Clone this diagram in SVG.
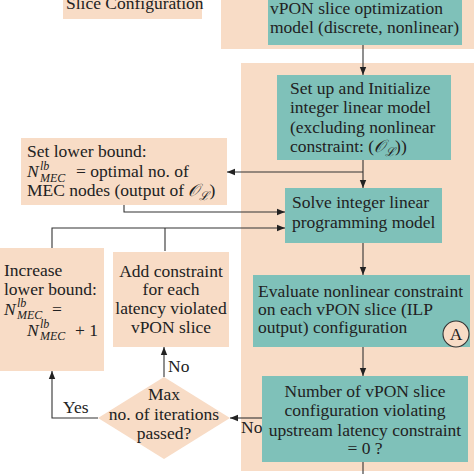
<svg xmlns="http://www.w3.org/2000/svg" width="474" height="474" viewBox="0 0 474 474">
<defs>
<style>
.pe{fill:#f8dcc6}
.te{fill:#7fc1b9}
text{font-family:"Liberation Serif","DejaVu Serif",serif;font-size:17.5px;fill:#222}
.c{text-anchor:middle}
.i{font-style:italic}
.s{font-size:12px;font-style:italic}
.ln{fill:none;stroke:#333;stroke-width:1.1}
.ar{marker-end:url(#ah)}
</style>
<marker id="ah" markerUnits="userSpaceOnUse" markerWidth="8" markerHeight="8" viewBox="0 0 8 8" refX="8" refY="4" orient="auto">
<path d="M0,0.8 L8,4 L0,7.2 Z" fill="#222"/>
</marker>
</defs>
<rect width="474" height="474" fill="#fff"/>

<g id="bg-top">
<rect class="pe" x="221" y="-5" width="260" height="54"/>
</g>
<g id="bg-main">
<rect class="pe" x="241" y="63" width="240" height="408"/>
</g>

<g id="slice-config">
<rect class="pe" x="63" y="-5" width="139" height="24"/>
<text x="66" y="9">Slice Configuration</text>
</g>

<g id="vpon-model">
<rect class="te" x="268" y="-5" width="194" height="50"/>
<text x="270" y="14">vPON slice optimization</text>
<text x="270" y="33">model (discrete, nonlinear)</text>
</g>

<g id="setup">
<rect class="te" x="277" y="75" width="174" height="85"/>
<text x="290" y="94">Set up and Initialize</text>
<text x="290" y="113">integer linear model</text>
<text x="290" y="133">(excluding nonlinear</text>
<text x="290" y="152">constraint: (<tspan class="i">𝒪</tspan><tspan class="s" dy="4">ℒ</tspan><tspan dy="-4">))</tspan></text>
</g>

<g id="lower-bound">
<rect class="pe" x="21" y="138" width="206" height="67"/>
<text x="27" y="157">Set lower bound:</text>
<text x="27" y="177"><tspan class="i">N</tspan><tspan class="s" x="40" dy="-7">lb</tspan><tspan class="s" x="40" dy="12">MEC</tspan><tspan x="76" dy="-5">= optimal no. of</tspan></text>
<text x="27" y="196">MEC nodes (output of <tspan class="i">𝒪</tspan><tspan class="s" dy="4">ℒ</tspan><tspan dy="-4">)</tspan></text>
</g>

<g id="solve">
<rect class="te" x="285" y="188" width="157" height="55"/>
<text x="292" y="208">Solve integer linear</text>
<text x="292" y="228">programming model</text>
</g>

<g id="increase">
<rect class="pe" x="-5" y="248" width="109" height="123"/>
<text x="4" y="276">Increase</text>
<text x="4" y="295">lower bound:</text>
<text x="4" y="315"><tspan class="i">N</tspan><tspan class="s" x="17" dy="-8">lb</tspan><tspan class="s" x="17" dy="12">MEC</tspan><tspan x="52" dy="-4">=</tspan></text>
<text x="27" y="336"><tspan class="i">N</tspan><tspan class="s" x="40" dy="-8">lb</tspan><tspan class="s" x="40" dy="12">MEC</tspan><tspan x="75" dy="-4">+ 1</tspan></text>
</g>

<g id="add-constraint">
<rect class="pe" x="113" y="252" width="116" height="95"/>
<text class="c" x="171" y="277">Add constraint</text>
<text class="c" x="171" y="295">for each</text>
<text class="c" x="171" y="314">latency violated</text>
<text class="c" x="171" y="333">vPON slice</text>
</g>

<g id="evaluate">
<rect class="te" x="253" y="275" width="217" height="72"/>
<text x="258" y="297">Evaluate nonlinear constraint</text>
<text x="258" y="315">on each vPON slice (ILP</text>
<text x="258" y="333">output) configuration</text>
<circle cx="456" cy="334" r="13" fill="#f8dcc6" stroke="#333" stroke-width="1.1"/>
<text class="c" x="456" y="340">A</text>
</g>

<g id="number-check">
<rect class="te" x="262" y="376" width="206" height="86"/>
<text class="c" x="365" y="397">Number of vPON slice</text>
<text class="c" x="365" y="416">configuration violating</text>
<text class="c" x="365" y="436">upstream latency constraint</text>
<text class="c" x="365" y="454">= 0 ?</text>
</g>

<g id="max-iter">
<polygon class="pe" points="164,377 230,418 164,459 98,418"/>
<text class="c" x="164" y="400">Max</text>
<text class="c" x="164" y="420">no. of iterations</text>
<text class="c" x="164" y="439">passed?</text>
</g>

<g id="connectors">
<path class="ln ar" d="M363,45 V75"/>
<path class="ln ar" d="M363,160 V188"/>
<path class="ln ar" d="M363,172 H227"/>
<path class="ln ar" d="M124,205 V212 H285"/>
<path class="ln" d="M52,248 V228 H165 M165,251 V228"/>
<path class="ln ar" d="M165,228 H285"/>
<path class="ln ar" d="M363,243 V275"/>
<path class="ln ar" d="M363,347 V376"/>
<path class="ln ar" d="M262,418 H230"/>
<path class="ln ar" d="M98,418 H52 V371"/>
<path class="ln ar" d="M164,377 V347"/>
<path class="ln" d="M363,462 V474"/>
<text x="63" y="413">Yes</text>
<text x="168" y="372">No</text>
<text x="241" y="433">No</text>
</g>
</svg>
